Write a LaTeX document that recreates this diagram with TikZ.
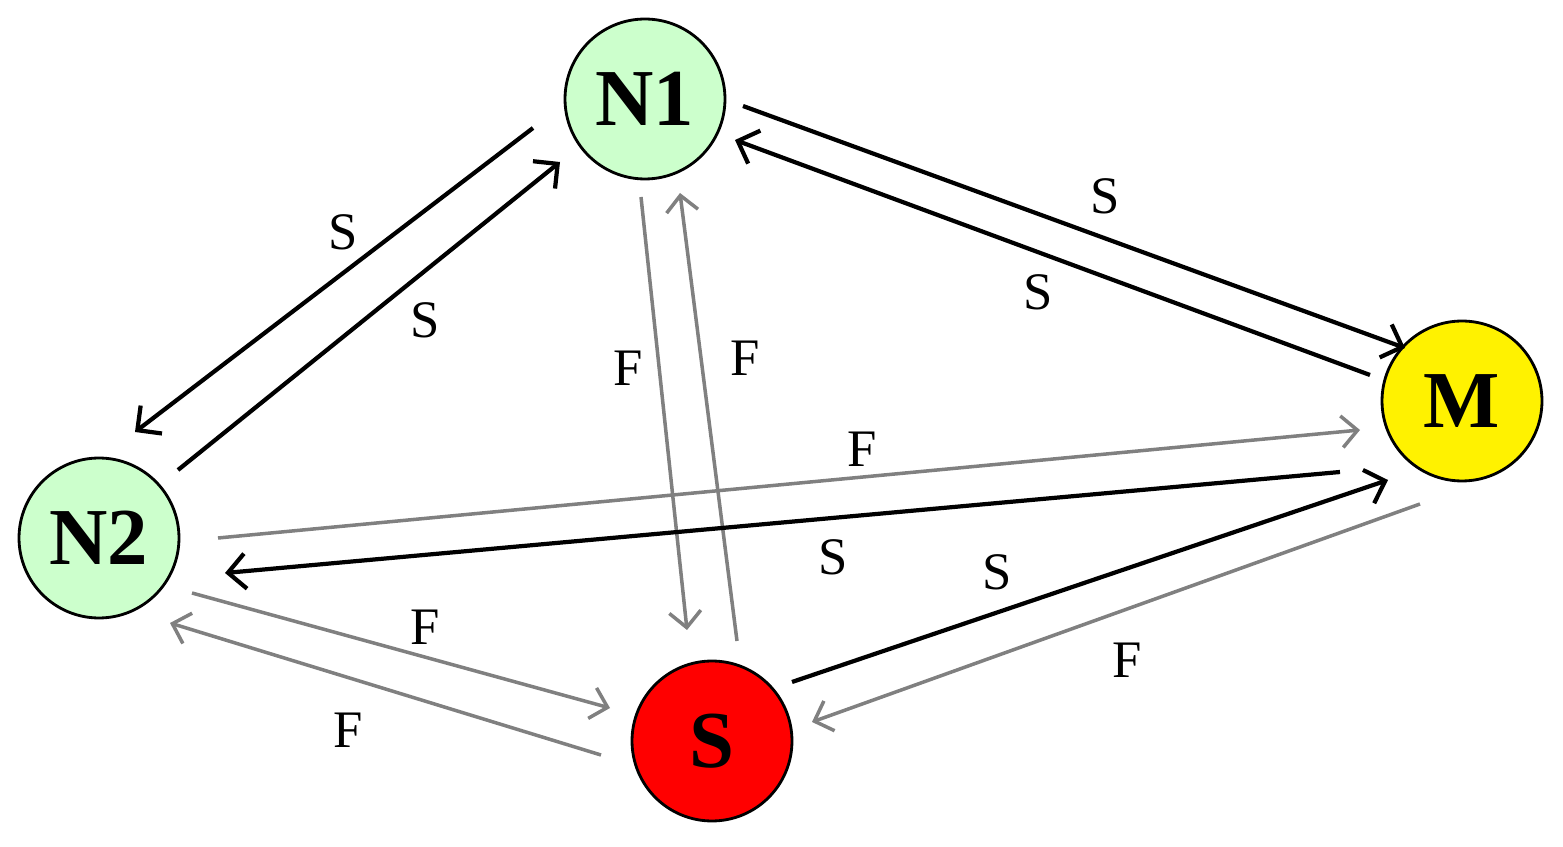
\documentclass[tikz,border=0pt]{standalone}
\usepackage{fontspec}
\setmainfont{Liberation Serif}
\usetikzlibrary{arrows.meta}
\begin{document}
\begin{tikzpicture}[x=0.02cm,y=-0.02cm,
  st/.style={circle,draw=black,line width=1.6pt,minimum size=3.2cm,inner sep=0pt,font=\fontsize{46}{46}\selectfont\bfseries},
  blk/.style={draw=black,line width=2.4pt,-{Straight Barb[length=10pt,width=20pt,line width=2.4pt]}},
  gry/.style={draw=gray,line width=2pt,-{Straight Barb[length=9pt,width=18pt,line width=2pt]}},
  lb/.style={font=\fontsize{30}{30}\selectfont}]
\useasboundingbox (0,0) rectangle (1563,847);
\node[st,fill={rgb,255:red,204;green,255;blue,204}] (N1) at (645,99) {N1};
\node[st,fill={rgb,255:red,204;green,255;blue,204}] (N2) at (99,538) {N2};
\node[st,fill=red] (S) at (712,741) {S};
\node[st,fill=yellow] (M) at (1462,401) {M};
\foreach \n/\x/\y in {a1/533/128,a2/135/432,b1/178/470,b2/560/162,c1/743/106,c2/1405/348,d1/1370/375,d2/735/140,
 e1/641/197,e2/687/630,f1/737/641,f2/680/193,g1/218/538,g2/1360/430,h1/1340/472,h2/225/573,
 i1/192/593,i2/610/708,j1/601/755,j2/170/623,k1/792/682,k2/1388/480,l1/1420/504,l2/812/722}
 \coordinate (\n) at (\x,\y);
\draw[blk] (a1) -- (a2);
\draw[blk] (b1) -- (b2);
\draw[blk] (c1) -- (c2);
\draw[blk] (d1) -- (d2);
\draw[gry] (e1) -- (e2);
\draw[gry] (f1) -- (f2);
\draw[gry] (g1) -- (g2);
\draw[blk] (h1) -- (h2);
\draw[gry] (i1) -- (i2);
\draw[gry] (j1) -- (j2);
\draw[blk] (k1) -- (k2);
\draw[gry] (l1) -- (l2);
\foreach \n/\x/\y/\t in {t1/343/232/S,t2/425/320/S,t3/1105/196/S,t4/1038/292/S,t5/628/368/F,t6/745/358/F,
 t7/862/449/F,t8/833/557/S,t9/997/572/S,t10/1127/660/F,t11/425/627/F,t12/348/730/F}
 \node[lb] (\n) at (\x,\y) {\t};
\end{tikzpicture}
\end{document}
